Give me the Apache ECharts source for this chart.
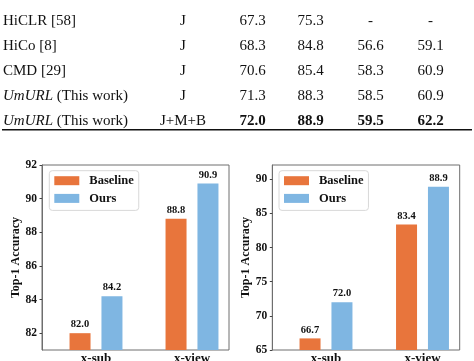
<!DOCTYPE html>
<html>
<head>
<meta charset="utf-8">
<script src="https://cdn.jsdelivr.net/npm/echarts@6/dist/echarts.min.js"></script>
<style>
html,body{margin:0;padding:0;background:#fff;}
#c{width:474px;height:361px;}
</style>
</head>
<body>
<div id="c"></div>
<script>
// ---- table data ----
const methods = ['HiCLR [58]', 'HiCo [8]', 'CMD [29]', 'UmURL (This work)', 'UmURL (This work)'];
const inputs = ['J', 'J', 'J', 'J', 'J+M+B'];
const col1 = [67.3, 68.3, 70.6, 71.3, 72.0];
const col2 = [75.3, 84.8, 85.4, 88.3, 88.9];
const col3 = [null, 56.6, 58.3, 58.5, 59.5];
const col4 = [null, 59.1, 60.9, 60.9, 62.2];
const boldRow = 4;

// ---- chart data ----
const categories = ['x-sub', 'x-view'];
const seriesNames = ['Baseline', 'Ours'];
const leftBaseline = [82.0, 88.8];
const leftOurs = [84.2, 90.9];
const rightBaseline = [66.7, 83.4];
const rightOurs = [72.0, 88.9];
const leftTicks = [82, 84, 86, 88, 90, 92];
const rightTicks = [65, 70, 75, 80, 85, 90];

const SERIF = '"Liberation Serif", "DejaVu Serif", serif';
const ORANGE = '#E8753C';
const BLUE = '#7FB6E2';
const FRAME = '#6e6e6e';

// ---- table graphics ----
const graphics = [];
const rowY0 = 21.5, rowStep = 25;
const valueCols = [col1, col2, col3, col4];
const valueX = [252.5, 310.7, 370.5, 430.5];
methods.forEach((m, r) => {
  const y = rowY0 + r * rowStep;
  let txt = m, rich;
  if (m.startsWith('UmURL')) {
    txt = '{i|UmURL}' + m.slice(5);
    rich = { i: { fontStyle: 'italic', fontFamily: SERIF, fontSize: 15, fill: '#111' } };
  }
  graphics.push({
    type: 'text', x: 3, y: y,
    style: { text: txt, rich: rich, fontFamily: SERIF, fontSize: 15, fill: '#111', align: 'left', verticalAlign: 'middle' }
  });
  graphics.push({
    type: 'text', x: 183, y: y,
    style: { text: inputs[r], fontFamily: SERIF, fontSize: 15, fill: '#111', align: 'center', verticalAlign: 'middle' }
  });
  valueCols.forEach((col, ci) => {
    const v = col[r];
    graphics.push({
      type: 'text', x: valueX[ci], y: y,
      style: {
        text: v == null ? '-' : v.toFixed(1), fontFamily: SERIF, fontSize: 15,
        fontWeight: r === boldRow ? 'bold' : 'normal', fill: '#111', align: 'center', verticalAlign: 'middle'
      }
    });
  });
});
graphics.push({
  type: 'line', shape: { x1: 2, y1: 129.8, x2: 472, y2: 129.8 },
  style: { stroke: '#111', lineWidth: 1.6 }
});

const tickLabel = { fontFamily: SERIF, fontWeight: 'bold', fontSize: 11.5, color: '#111', margin: 5 };
const nameStyle = { fontFamily: SERIF, fontWeight: 'bold', fontSize: 12, color: '#111' };
const catLabel = { fontFamily: SERIF, fontWeight: 'bold', fontSize: 13, color: '#111', margin: 2 };
const barLabel = { show: true, position: 'top', distance: 3, fontFamily: SERIF, fontWeight: 'bold', fontSize: 10.5, color: '#111', formatter: p => p.value.toFixed(1) };

function valueAxis(grid, min, max, offset, ticks) {
  return {
    gridIndex: grid, type: 'value', min: min, max: max, offset: offset,
    name: 'Top-1 Accuracy', nameLocation: 'middle', nameGap: 14, nameTextStyle: nameStyle,
    axisLine: { show: true, lineStyle: { color: FRAME, width: 1 } },
    axisTick: { show: true, length: 2.5, lineStyle: { color: '#444' }, customValues: ticks },
    axisLabel: Object.assign({ customValues: ticks }, tickLabel),
    splitLine: { show: false }
  };
}
function legend(left) {
  return {
    left: left, top: 170.7, orient: 'vertical', data: seriesNames,
    icon: 'rect', itemWidth: 25, itemHeight: 9, itemGap: 3.7,
    padding: [3, 5, 5, 5], borderColor: '#d8d8d8', borderWidth: 1, borderRadius: 3,
    backgroundColor: '#fff',
    textStyle: { fontFamily: SERIF, fontWeight: 'bold', fontSize: 12.5, color: '#111', lineHeight: 14, padding: [0, 0, 0, 5] }
  };
}
function bar(name, xi, data, color) {
  return {
    type: 'bar', name: name, xAxisIndex: xi, yAxisIndex: xi, data: data,
    barWidth: 21, barGap: '52%', itemStyle: { color: color }, label: barLabel
  };
}

const option = {
  animation: false,
  backgroundColor: '#fff',
  grid: [
    { left: 48, top: 165, width: 192, height: 185, outerBoundsMode: 'none', containLabel: false },
    { left: 42, top: 165, width: 187, height: 185, outerBoundsMode: 'none', show: true, borderColor: FRAME, borderWidth: 1, backgroundColor: 'transparent' },
    { left: 277.75, top: 165, width: 193, height: 185, outerBoundsMode: 'none', containLabel: false },
    { left: 272.3, top: 165, width: 187.4, height: 185, outerBoundsMode: 'none', show: true, borderColor: FRAME, borderWidth: 1, backgroundColor: 'transparent' }
  ],
  xAxis: [
    { gridIndex: 0, type: 'category', data: categories, axisLine: { show: false }, axisTick: { show: false }, axisLabel: catLabel },
    { gridIndex: 1, type: 'value', show: false },
    { gridIndex: 2, type: 'category', data: categories, axisLine: { show: false }, axisTick: { show: false }, axisLabel: catLabel },
    { gridIndex: 3, type: 'value', show: false }
  ],
  yAxis: [
    valueAxis(0, 81, 92, 6, leftTicks),
    { gridIndex: 1, type: 'value', show: false },
    valueAxis(2, 65, 92.1, 5.45, rightTicks),
    { gridIndex: 3, type: 'value', show: false }
  ],
  legend: [legend(49.3), legend(279)],
  series: [
    bar(seriesNames[0], 0, leftBaseline, ORANGE),
    bar(seriesNames[1], 0, leftOurs, BLUE),
    bar(seriesNames[0], 2, rightBaseline, ORANGE),
    bar(seriesNames[1], 2, rightOurs, BLUE)
  ],
  graphic: graphics
};
const chart = echarts.init(document.getElementById('c'), null, { renderer: 'canvas' });
chart.setOption(option);
</script>
</body>
</html>
